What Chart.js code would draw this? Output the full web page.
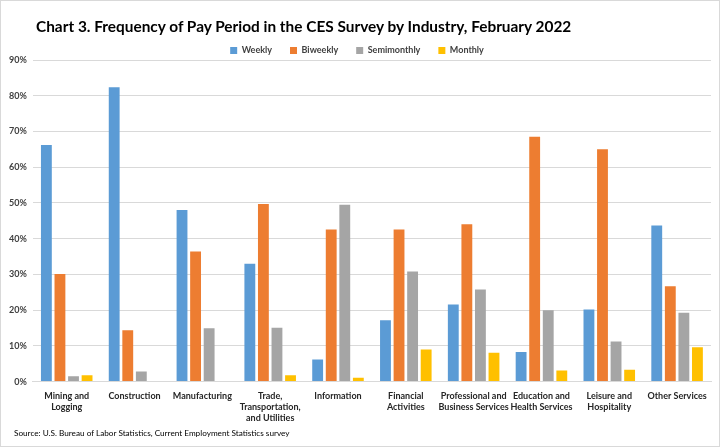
<!DOCTYPE html>
<html>
<head>
<meta charset="utf-8">
<script src="https://cdn.jsdelivr.net/npm/chart.js@4.4.1/dist/chart.umd.min.js"></script>
<style>
  html, body { margin: 0; padding: 0; background: #fff; }
  #wrap { position: relative; width: 718px; height: 445px; border: 1px solid #d9d9d9; }
  #title { position: absolute; left: 35px; top: 16px; font: bold 15.4px Lato, "Open Sans", sans-serif; color: #000; white-space: nowrap; }
  #source { position: absolute; left: 13px; top: 427px; font: 8.2px Lato, "Open Sans", sans-serif; color: #000; white-space: nowrap; }
  #box { position: absolute; left: 0; top: 0; width: 718px; height: 445px; }
</style>
</head>
<body>
<div id="wrap">
  <div id="box"><canvas id="payChart"></canvas></div>
  <div id="title">Chart 3. Frequency of Pay Period in the CES Survey by Industry, February 2022</div>
  <div id="source">Source: U.S. Bureau of Labor Statistics, Current Employment Statistics survey</div>
</div>
<script>
// industries (x axis), each label split into lines
var industries = [
    ["Mining and", "Logging"],
    "Construction",
    "Manufacturing",
    ["Trade,", "Transportation,", "and Utilities"],
    "Information",
    ["Financial", "Activities"],
    ["Professional and", "Business Services"],
    ["Education and", "Health Services"],
    ["Leisure and", "Hospitality"],
    "Other Services"
];

// percent of employment by pay period
var weekly      = [66.2, 82.4, 48.0, 33.0, 6.2, 17.2, 21.6, 8.3, 20.2, 43.7];
var biweekly    = [30.1, 14.4, 36.4, 49.7, 42.6, 42.6, 44.0, 68.5, 65.0, 26.7];
var semimonthly = [1.5, 2.8, 14.9, 15.1, 49.5, 30.8, 25.8, 20.0, 11.2, 19.3];
var monthly     = [1.8, 0.2, 0.2, 1.8, 1.1, 9.0, 8.1, 3.1, 3.3, 9.6];

var seriesNames  = ["Weekly", "Biweekly", "Semimonthly", "Monthly"];
var seriesColors = ["#5B9BD5", "#ED7D31", "#A5A5A5", "#FFC000"];
var seriesData   = [weekly, biweekly, semimonthly, monthly];

var datasets = seriesData.map(function(d, i) {
    return {
        label: seriesNames[i],
        data: d,
        backgroundColor: seriesColors[i],
        borderWidth: 0,
        barPercentage: 0.8,
        categoryPercentage: 0.8
    };
});

var tickFont = { family: "Lato, 'Open Sans', sans-serif", size: 9, weight: "bold" };

// pull the plot a bit closer under the legend
var tightLegend = {
    id: "tightLegend",
    beforeInit: function(chart) {
        var origFit = chart.legend.fit;
        chart.legend.fit = function() {
            origFit.bind(chart.legend)();
            this.height -= 5;
        };
    }
};

var ctx = document.getElementById("payChart").getContext("2d");
var payChart = new Chart(ctx, {
    type: "bar",
    data: { labels: industries, datasets: datasets },
    plugins: [tightLegend],
    options: {
        responsive: true,
        maintainAspectRatio: false,
        animation: false,
        layout: { padding: { top: 27, left: 2, right: 8, bottom: 22 } },
        plugins: {
            legend: {
                position: "top",
                labels: {
                    boxWidth: 7,
                    boxHeight: 7,
                    padding: 18,
                    color: "#404040",
                    font: tickFont
                }
            },
            tooltip: { enabled: false }
        },
        scales: {
            x: {
                grid: { display: false },
                border: { color: "#d9d9d9" },
                ticks: { color: "#262626", font: tickFont, maxRotation: 0, autoSkip: false, padding: 1 }
            },
            y: {
                min: 0,
                max: 90,
                grid: { color: "#d9d9d9", drawTicks: false },
                border: { display: false },
                ticks: {
                    stepSize: 10,
                    padding: 6,
                    color: "#404040",
                    font: tickFont,
                    callback: function(v) { return v + "%"; }
                }
            }
        }
    }
});
</script>
</body>
</html>
